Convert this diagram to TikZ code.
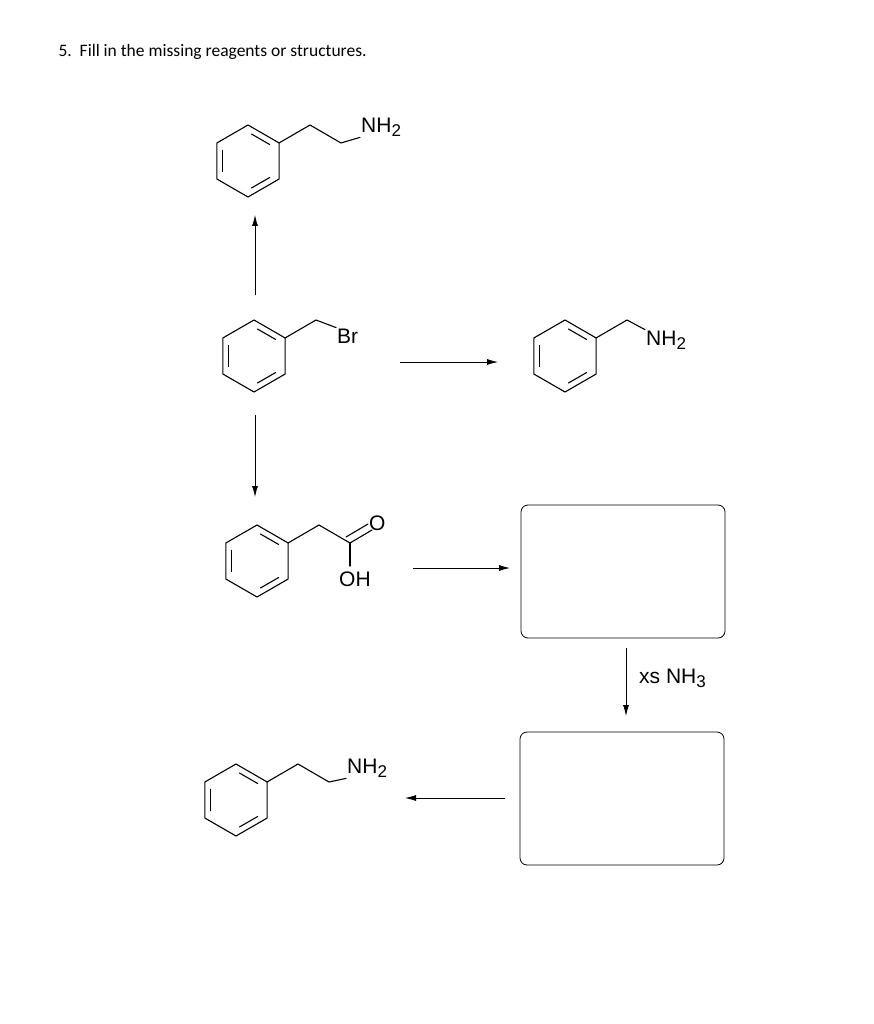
\documentclass[tikz,border=0pt]{standalone}
\usepackage{fontspec}
\setmainfont{Liberation Sans}
\newfontfamily\titlefont{Carlito}
\usetikzlibrary{arrows.meta,calc}
\tikzset{bond/.style={line width=1.1pt,line cap=round},
 rxn/.style={line width=0.8pt,-{Latex[length=11pt,width=6pt]}},
 lbl/.style={font=\fontsize{21}{21}\selectfont,inner sep=1pt},
 ansbox/.style={draw,line width=0.8pt,rounded corners=7pt}}
\newcommand{\sbs}[1]{\raisebox{-0.35ex}{\fontsize{17}{17}\selectfont #1}}
\newcommand{\benz}[2]{%
 \draw[bond] (#1,#2) ++(90:36) -- ++(-30:36) -- ++(-90:36) -- ++(-150:36) -- ++(150:36) -- ++(90:36) -- cycle;
 \draw[bond,shorten <=4pt,shorten >=4pt] ($(#1,#2)+(90:29)$) -- ($(#1,#2)+(30:29)$);
 \draw[bond,shorten <=4pt,shorten >=4pt] ($(#1,#2)+(-30:29)$) -- ($(#1,#2)+(-90:29)$);
 \draw[bond,shorten <=4pt,shorten >=4pt] ($(#1,#2)+(-150:29)$) -- ($(#1,#2)+(150:29)$);}
\begin{document}
\begin{tikzpicture}[x=1pt,y=-1pt]
\useasboundingbox (0,0) rectangle (874,1024);
\node[anchor=west,font=\titlefont\fontsize{17.5}{17.5}\selectfont] (title) at (55,52) {5.\ \ Fill in the missing reagents or structures.};
% top
\benz{248}{161}
\node[lbl,anchor=west] (n1) at (360,127) {NH\sbs{2}};
\draw[bond] (279,143) -- (310,125) -- (341,143) -- (n1.south west);
% Br
\benz{254}{356}
\node[lbl,anchor=west] (br) at (336,336) {Br};
\draw[bond] (285,338) -- (316,320) -- (br.north west);
% right amine
\benz{565}{356}
\node[lbl,anchor=west] (n2) at (645,340) {NH\sbs{2}};
\draw[bond] (596,338) -- (627,320) -- (n2.north west);
% acid
\benz{257}{561}
\node[lbl,anchor=west] (o) at (368,523) {O};
\node[lbl,anchor=west] (oh) at (338,579) {OH};
\draw[bond] (288,543) -- (319,525) -- (350,543);
\draw[bond] (350,543) -- (372,530);
\draw[bond] (346,537) -- (368,524);
\draw[bond] (350,543) -- (350,566);
% bottom
\benz{236}{800}
\node[lbl,anchor=west] (n3) at (346,768) {NH\sbs{2}};
\draw[bond] (267,782) -- (298,764) -- (329,782) -- (n3.south west);
% arrows
\coordinate (a1) at (255,295); \coordinate (a2) at (255,215);
\draw[rxn] (a1) -- (a2);
\coordinate (b1) at (400,362); \coordinate (b2) at (498,362);
\draw[rxn] (b1) -- (b2);
\coordinate (c1) at (255,415); \coordinate (c2) at (255,497);
\draw[rxn] (c1) -- (c2);
\coordinate (d1) at (413,568); \coordinate (d2) at (510,568);
\draw[rxn] (d1) -- (d2);
\node[ansbox,minimum width=204pt,minimum height=133pt] (box1) at (623,571.5) {};
\node[ansbox,minimum width=204pt,minimum height=133pt] (box2) at (622,798.5) {};
\coordinate (e1) at (626,648); \coordinate (e2) at (626,716);
\draw[rxn] (e1) -- (e2);
\node[lbl,anchor=west] (xs) at (638,678) {xs NH\sbs{3}};
\coordinate (f1) at (505,798); \coordinate (f2) at (405,798);
\draw[rxn] (f1) -- (f2);
\end{tikzpicture}
\end{document}
